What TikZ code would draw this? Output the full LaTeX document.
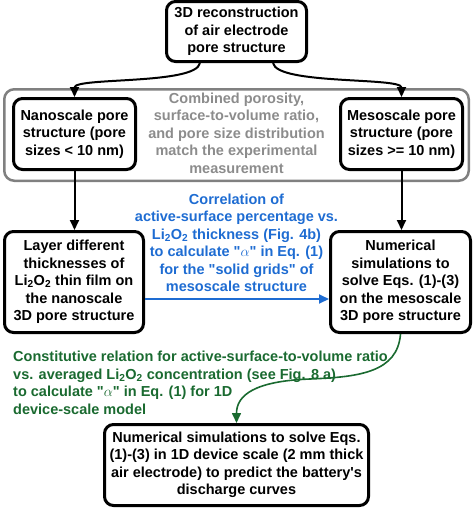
\documentclass[tikz,border=0pt]{standalone}
\usepackage{fontspec}
\setmainfont{Liberation Sans}[Ligatures=TeXOff]
\usetikzlibrary{arrows.meta}
\definecolor{grayline}{RGB}{128,128,128}
\definecolor{graytext}{RGB}{140,140,140}
\definecolor{bluetext}{RGB}{30,108,210}
\definecolor{greentext}{RGB}{26,106,48}
\begin{document}
\begin{tikzpicture}[x=1pt,y=-1pt,
  every node/.style={font=\fontsize{14.5}{17.5}\selectfont\bfseries, align=center, inner sep=0pt},
  blackbox/.style={draw=black, line width=3pt, rounded corners=9pt, fill=white},
  conn/.style={line width=2pt, -{Triangle[length=10pt,width=9pt]}},
]
\useasboundingbox (0,0) rectangle (474,509);
% gray group
\draw[grayline, line width=2.5pt, rounded corners=10pt] (4.25,89.25) rectangle (468.75,180.75);
\node[graytext] (gtext) at (236.5,133) {Combined porosity,\\surface-to-volume ratio,\\and pore size distribution\\match the experimental\\measurement};

\node[blackbox, minimum width=140pt, minimum height=60pt] (top) at (236.5,31.5) {3D reconstruction\\of air electrode\\pore structure};
\node[blackbox, minimum width=122pt, minimum height=71pt] (nano) at (74.5,134) {Nanoscale pore\\structure (pore\\sizes < 10 nm)};
\node[blackbox, minimum width=122pt, minimum height=71pt] (meso) at (401.5,134) {Mesoscale pore\\structure (pore\\sizes >= 10 nm)};
\node[blackbox, minimum width=139pt, minimum height=101pt] (layer) at (74,282) {Layer different\\thicknesses of\\Li\textsubscript{2}O\textsubscript{2} thin film on\\the nanoscale\\3D pore structure};
\node[blackbox, minimum width=140pt, minimum height=101pt] (num) at (400.5,282) {Numerical\\simulations to\\solve Eqs. (1)-(3)\\on the mesoscale\\3D pore structure};
\node[blackbox, minimum width=264pt, minimum height=81pt] (bot) at (236.5,465) {Numerical simulations to solve Eqs.\\(1)-(3) in 1D device scale (2 mm thick\\air electrode) to predict the battery's\\discharge curves};

\node[bluetext] (btext) at (236.5,243) {Correlation of\\active-surface percentage vs.\\Li\textsubscript{2}O\textsubscript{2} thickness (Fig. 4b)\\to calculate "$\alpha$" in Eq. (1)\\for the "solid grids" of\\mesoscale structure};

\node[greentext, align=left, anchor=north west] (gntext) at (13,351) {Constitutive relation for active-surface-to-volume ratio\\vs. averaged Li\textsubscript{2}O\textsubscript{2} concentration (see Fig. 8 a)\\to calculate "$\alpha$" in Eq. (1) for 1D\\device-scale model};

\coordinate (gmid) at (310,379);

% connectors
\draw[conn] ([xshift=-36.5pt]top.south) .. controls +(-4,22) and +(0,-20) .. (nano.north);
\draw[conn] ([xshift=36.5pt]top.south) .. controls +(4,22) and +(0,-20) .. (meso.north);
\draw[conn] (nano.south) -- (nano.south |- layer.north);
\draw[conn] (meso.south) -- (meso.south |- num.north);
\draw[conn, bluetext] ([yshift=-17pt]layer.east) -- ([yshift=-17pt]num.west);
\draw[conn, greentext, line width=1.6pt] (num.south) .. controls +(-3,38) and +(50,-2) .. (gmid) .. controls +(-55,2) and +(0,-28) .. (bot.north);
\end{tikzpicture}
\end{document}
